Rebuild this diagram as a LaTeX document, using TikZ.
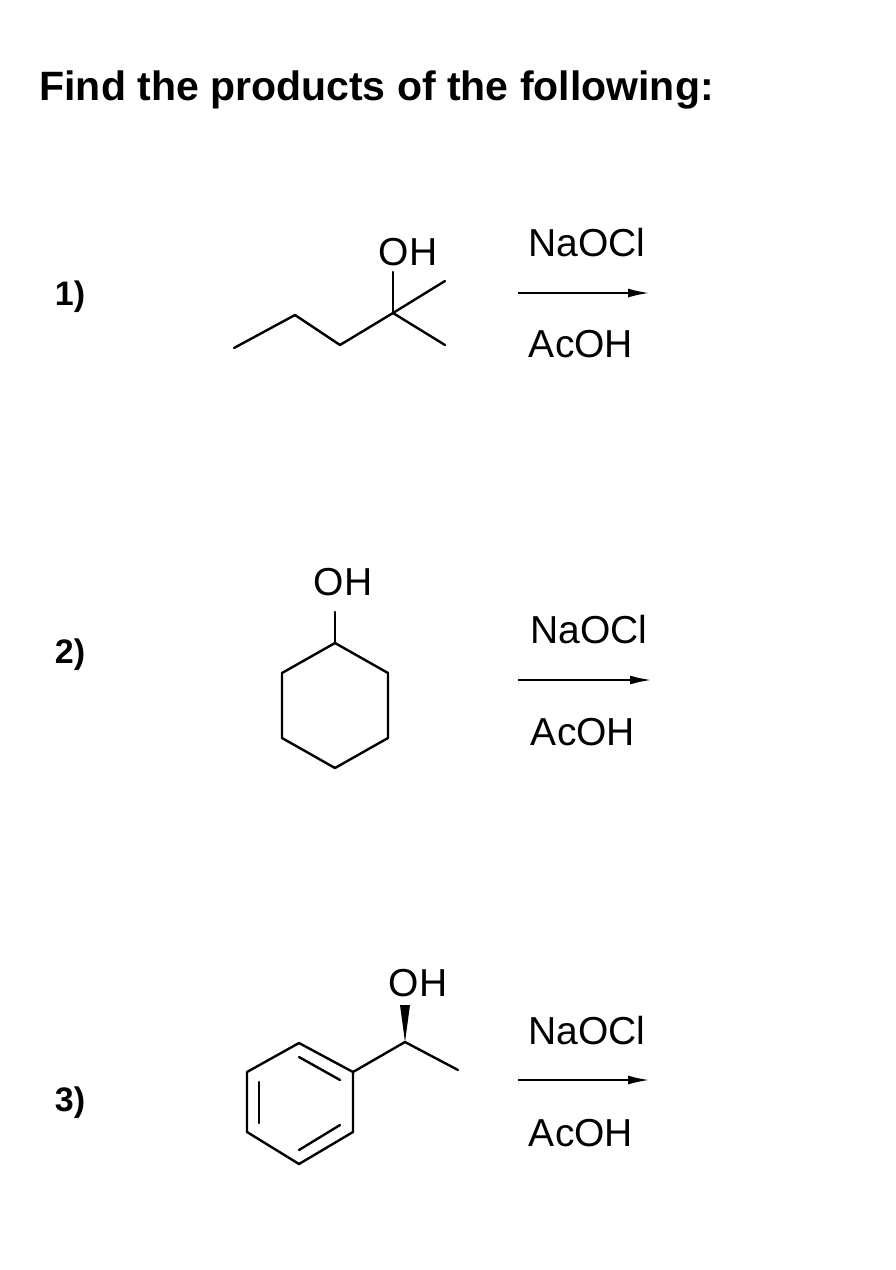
\documentclass[tikz,border=0pt]{standalone}
\usepackage{fontspec}
\setmainfont{Liberation Sans}
\usetikzlibrary{arrows.meta}
\begin{document}
\begin{tikzpicture}[x=1pt,y=-1pt,
  bond/.style={line width=2.4pt,line cap=round,line join=round},
  lbl/.style={font=\fontsize{39}{44}\selectfont},
  num/.style={font=\fontsize{34}{40}\selectfont\bfseries},
  arr/.style={line width=2.4pt,-{Latex[length=22pt,width=9pt]}}]
\useasboundingbox (0,0) rectangle (896,1270);
\node[anchor=west,font=\fontsize{41}{48}\selectfont\bfseries] (title) at (36,90) {Find the products of the following:};
% 1
\node[num] (n1) at (70,297) {1)};
\coordinate (a1) at (234,348); \coordinate (a2) at (295,315); \coordinate (a3) at (340,345); \coordinate (a4) at (393,313);
\coordinate (a5) at (445,281); \coordinate (a6) at (445,345); \coordinate (a7) at (393,272);
\draw[bond] (a1)--(a2)--(a3)--(a4)--(a5); \draw[bond] (a4)--(a6); \draw[bond] (a4)--(a7);
\node[lbl] (oh1) at (408,252) {OH};
\coordinate (r1s) at (518,293); \coordinate (r1e) at (650,293);
\draw[arr] (r1s)--(r1e);
\node[lbl] (na1) at (587,243) {NaOCl};
\node[lbl] (ac1) at (581,344) {AcOH};
% 2
\node[num] (n2) at (70,655) {2)};
\coordinate (b1) at (335,643); \coordinate (b2) at (388,673); \coordinate (b3) at (388,738);
\coordinate (b4) at (335,768); \coordinate (b5) at (282,738); \coordinate (b6) at (282,673);
\coordinate (b7) at (335,612);
\draw[bond] (b1)--(b2)--(b3)--(b4)--(b5)--(b6)--cycle; \draw[bond] (b1)--(b7);
\node[lbl] (oh2) at (343,582) {OH};
\coordinate (r2s) at (518,680); \coordinate (r2e) at (652,680);
\draw[arr] (r2s)--(r2e);
\node[lbl] (na2) at (589,630) {NaOCl};
\node[lbl] (ac2) at (583,732) {AcOH};
% 3
\node[num] (n3) at (70,1103) {3)};
\coordinate (c1) at (299,1043); \coordinate (c2) at (353,1072); \coordinate (c3) at (353,1132);
\coordinate (c4) at (299,1164); \coordinate (c5) at (247,1132); \coordinate (c6) at (247,1072);
\coordinate (cc) at (405,1042); \coordinate (cm) at (458,1070);
\draw[bond] (c1)--(c2)--(c3)--(c4)--(c5)--(c6)--cycle;
\draw[bond] (c2)--(cc)--(cm);
\draw[bond] (299,1057)--(340,1080); \draw[bond] (340,1125)--(299,1150); \draw[bond] (259,1082)--(259,1123);
\fill (cc) -- (400,1005) -- (410,1005) -- cycle;
\node[lbl] (oh3) at (418,983) {OH};
\coordinate (r3s) at (518,1080); \coordinate (r3e) at (650,1080);
\draw[arr] (r3s)--(r3e);
\node[lbl] (na3) at (587,1031) {NaOCl};
\node[lbl] (ac3) at (581,1133) {AcOH};
\end{tikzpicture}
\end{document}
